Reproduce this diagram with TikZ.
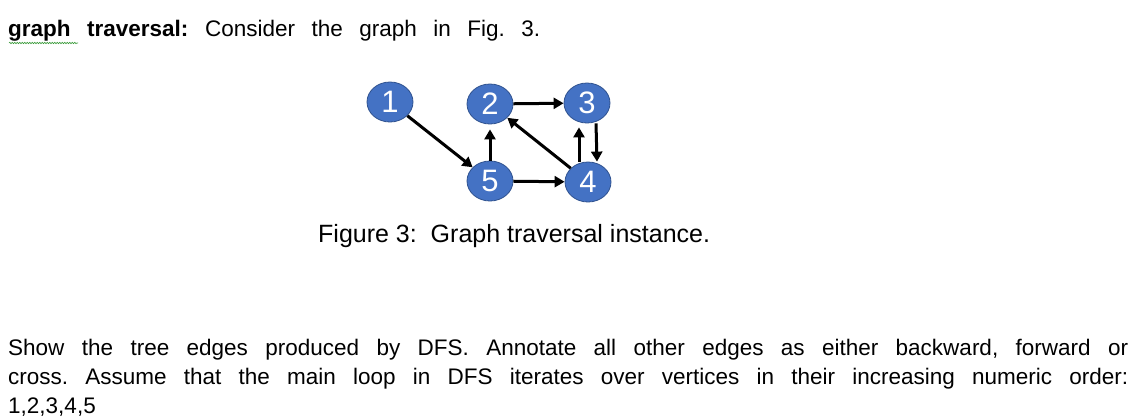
\documentclass[tikz,border=0pt]{standalone}
\usepackage{fontspec}
\setmainfont{Liberation Sans}
\usetikzlibrary{shapes.geometric, arrows.meta, decorations.pathmorphing}
\definecolor{NodeBlue}{HTML}{4472C4}
\definecolor{NodeRim}{HTML}{2F528F}
\definecolor{SpellGreen}{HTML}{3A9A3A}

\begin{document}
\begin{tikzpicture}[
    x=1pt, y=-1pt,
    vertex/.style={ellipse, minimum width=46pt, minimum height=40pt, inner sep=0pt, fill=NodeBlue, draw=NodeRim, line width=0.8pt, text=white, font=\fontsize{31}{31}\selectfont},
    edge/.style={line width=3pt, -{Triangle[length=10pt, width=11pt]}},
    body/.style={inner sep=0pt, font=\fontsize{22.5}{29}\selectfont\frenchspacing}
]
\useasboundingbox (0,0) rectangle (1136,418);
\node[body, anchor=base west] (title) at (8,36) {\makebox[532pt][s]{\textbf{graph traversal:} Consider the graph in Fig. 3.}};
\draw[SpellGreen, line width=0.6pt, decorate, decoration={snake, segment length=2.5pt, amplitude=0.7pt}] (9,43) -- (78,43);
\node[vertex] (n1) at (390,102) {1};
\node[vertex] (n2) at (490,104) {2};
\node[vertex] (n3) at (587,103) {3};
\node[vertex] (n5) at (490,181) {5};
\node[vertex] (n4) at (588,182) {4};
\draw[edge] (n1) -- (n5);
\draw[edge] (n2) -- (n3);
\draw[edge, shorten >=5pt] (n5) -- (n2);
\draw[edge] (n4) -- (n2);
\draw[edge] (n5) -- (n4);
\draw[edge, shorten >=4pt] ([xshift=-9pt]n4.north) -- ([xshift=-8pt]n3.south);
\draw[edge] ([xshift=9pt]n3.south) -- ([xshift=9pt]n4.north);
\node[body, font=\fontsize{25}{25}\selectfont, anchor=base west] (caption) at (318,242) {Figure 3:\ \ Graph traversal instance.};
\node[body, anchor=north west, text width=1120pt, align=justify] (task) at (8,338.5) {Show the tree edges produced by DFS. Annotate all other edges as either backward, forward or\linebreak cross. Assume that the main loop in DFS iterates over vertices in their increasing numeric order:\linebreak 1,2,3,4,5};
\end{tikzpicture}
\end{document}
